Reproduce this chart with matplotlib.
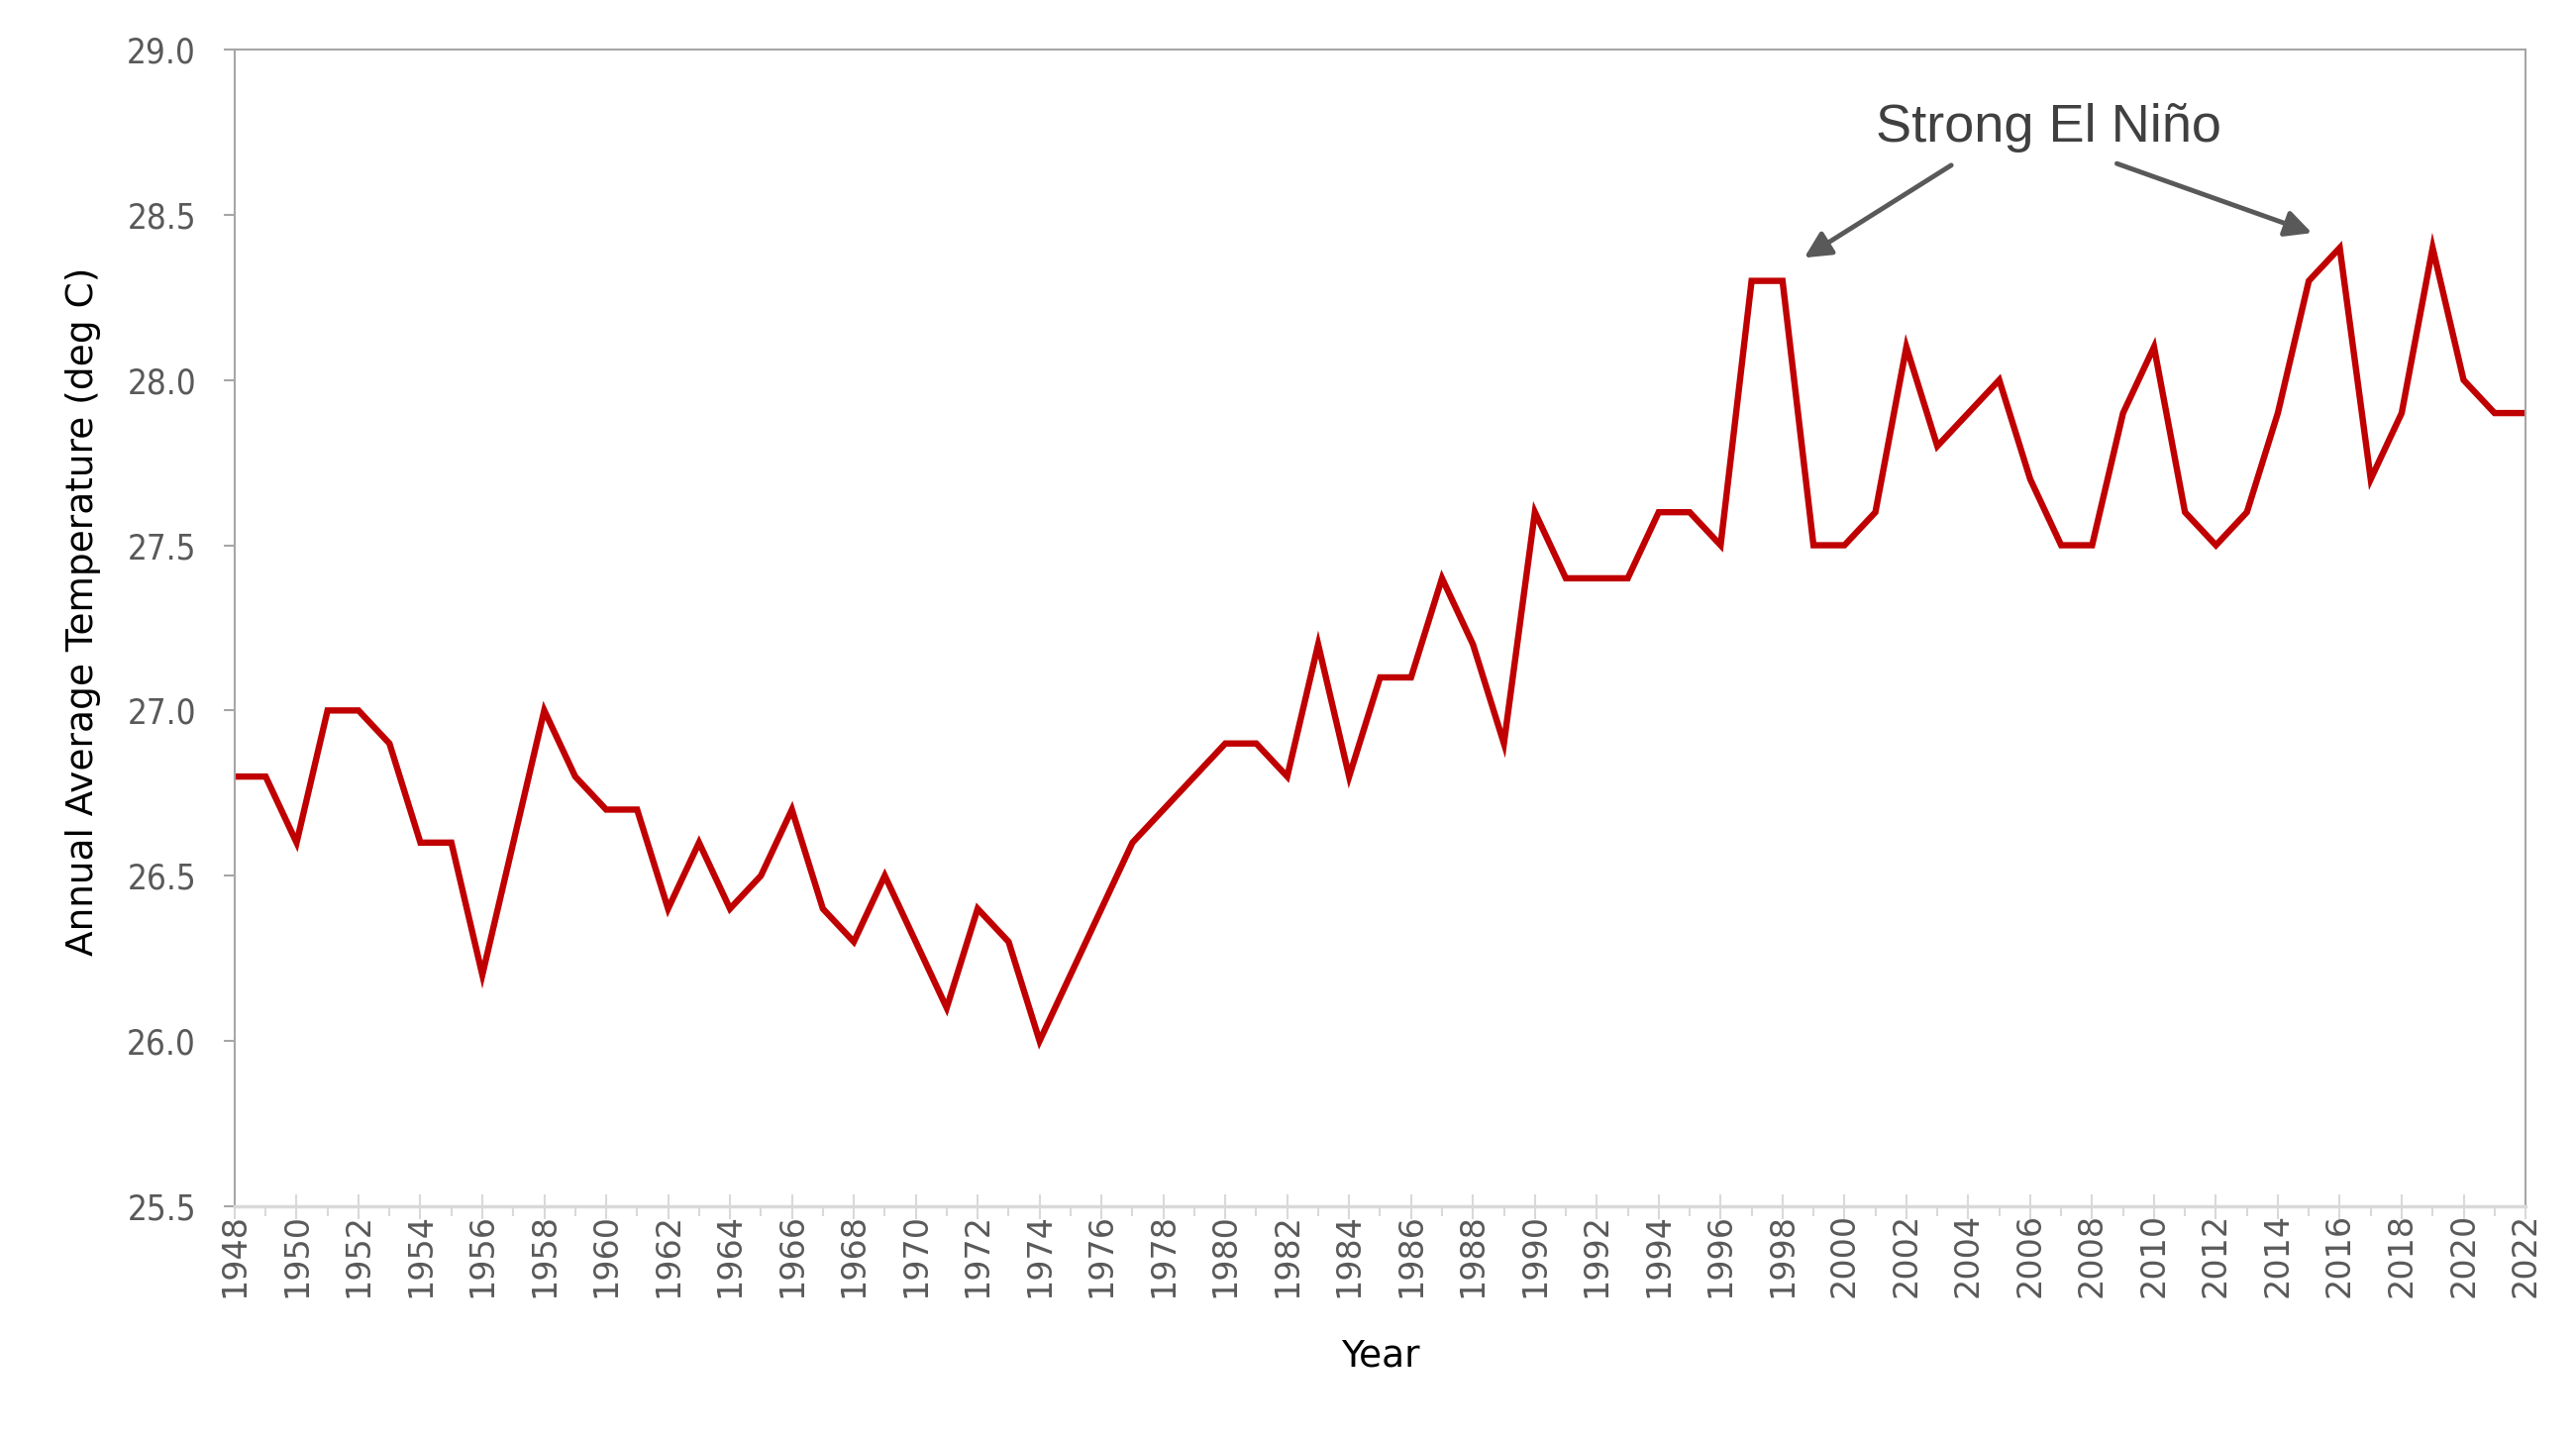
"""
Annual average temperature line chart with El Nino annotation
"""
import matplotlib
matplotlib.use('Agg')
import matplotlib.pyplot as plt
from matplotlib import font_manager
from matplotlib.ticker import MultipleLocator, FormatStrFormatter
import numpy as np

years = np.arange(1948, 2023)
temps = [26.8, 26.8, 26.6, 27.0, 27.0, 26.9, 26.6, 26.6, 26.2, 26.6,
         27.0, 26.8, 26.7, 26.7, 26.4, 26.6, 26.4, 26.5, 26.7, 26.4,
         26.3, 26.5, 26.3, 26.1, 26.4, 26.3, 26.0, 26.2, 26.4, 26.6,
         26.7, 26.8, 26.9, 26.9, 26.8, 27.2, 26.8, 27.1, 27.1, 27.4,
         27.2, 26.9, 27.6, 27.4, 27.4, 27.4, 27.6, 27.6, 27.5, 28.3,
         28.3, 27.5, 27.5, 27.6, 28.1, 27.8, 27.9, 28.0, 27.7, 27.5,
         27.5, 27.9, 28.1, 27.6, 27.5, 27.6, 27.9, 28.3, 28.4, 27.7,
         27.9, 28.4, 28.0, 27.9, 27.9]

note_text = "Strong El Niño"
note_xy = (2006.6, 28.72)
arrow_tips = [(1998.7, 28.37), (2015.1, 28.445)]
arrow_tails = [(2003.45, 28.65), (2008.8, 28.655)]

names = {f.name for f in font_manager.fontManager.ttflist}
if 'Liberation Sans Narrow' in names:
    narrow = dict(family='Liberation Sans Narrow')
else:
    narrow = dict(family='DejaVu Sans', stretch='condensed')

fig = plt.figure(figsize=(26.01, 14.55), dpi=100)
ax = fig.add_axes([0.0911, 0.163, 0.8893, 0.8026])

ax.plot(years, temps, color='#C00000', lw=4.6, solid_joinstyle='miter')

ax.set_xlim(1948, 2022)
ax.set_ylim(25.5, 29.0)
ax.yaxis.set_major_locator(MultipleLocator(0.5))
ax.yaxis.set_major_formatter(FormatStrFormatter('%.1f'))
ax.set_xticks(years[::2])
ax.set_xticks(years[1::2], minor=True)
ax.set_xticklabels([str(y) for y in years[::2]], rotation=90,
                   fontsize=24, color='#595959')

ax.tick_params(axis='y', direction='out', length=8, width=1.5,
               color='#A6A6A6', labelsize=25, labelcolor='#595959', pad=20)
for lbl in ax.get_yticklabels():
    lbl.set_fontfamily(narrow['family'])
    if 'stretch' in narrow:
        lbl.set_fontstretch(narrow['stretch'])
ax.tick_params(axis='x', which='major', direction='inout', length=18,
               width=1.5, color='#D9D9D9', pad=-4)
ax.tick_params(axis='x', which='minor', direction='out', length=7,
               width=1.5, color='#D9D9D9')

for side in ['left', 'top', 'right']:
    ax.spines[side].set_color('#A6A6A6')
    ax.spines[side].set_linewidth(1.5)
ax.spines['bottom'].set_color('#D9D9D9')
ax.spines['bottom'].set_linewidth(2.5)

ax.set_ylabel('Annual Average Temperature (deg C)', fontsize=27)
ax.yaxis.set_label_coords(-0.0585, 0.514)
ax.set_xlabel('Year', fontsize=27, labelpad=30)

ax.text(note_xy[0], note_xy[1], note_text, fontsize=39, color='#404040',
        family='Liberation Sans', ha='center', va='baseline')
for tip, tail in zip(arrow_tips, arrow_tails):
    ax.annotate('', xy=tip, xytext=tail,
                arrowprops=dict(arrowstyle='-|>', color='#595959', lw=3.5,
                                mutation_scale=40, shrinkA=0, shrinkB=0))

fig.savefig('out.png', dpi=100)
